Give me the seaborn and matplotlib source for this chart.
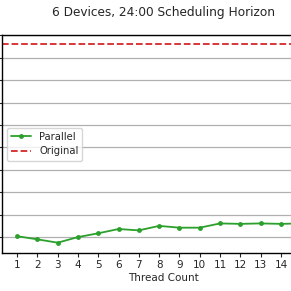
import numpy as np
import pandas as pd
import seaborn as sns
import matplotlib
matplotlib.use("Agg")
import matplotlib.pyplot as plt

# Values (y units arbitrary; labels are cropped away)
threads = [1, 2, 3, 4, 5, 6, 7, 8, 9, 10, 11, 12, 13, 14, 15]
parallel_time = [104, 90, 75, 100, 117, 136, 130, 150, 142, 142, 161, 159, 161, 159, 161]
original_time = 963
y_ticks = [100, 200, 300, 400, 500, 600, 700, 800, 900, 1000]

sns.set_style("ticks")
plt.rcParams['font.family'] = ['DejaVu Sans']

W = H = 291
fig = plt.figure(figsize=(W / 100, H / 100), dpi=100)
# axes deliberately wider than the figure: the reference is a crop
ax = fig.add_axes([2 / W, 1 - 253 / H, 322 / W, (253 - 35) / H])

df = pd.DataFrame({"Thread Count": threads, "Time": parallel_time})
sns.lineplot(data=df, x="Thread Count", y="Time", ax=ax, color="#2ca02c",
             marker="o", markersize=3.5, markeredgewidth=0, linewidth=1.3,
             label="Parallel")
ax.axhline(original_time, color="#d62728", linestyle="--", linewidth=1.3,
           label="Original")

ax.set_xlim(0.26, 16.12)
ax.set_ylim(29, 1002)
ax.set_xticks(list(range(1, 15)))
# y tick labels fall outside the cropped reference, so only marks remain
ax.set_yticks(y_ticks)
ax.set_yticklabels([])
ax.yaxis.grid(True, color="#b0b0b0", linewidth=0.9)
ax.set_axisbelow(True)
ax.tick_params(axis="x", labelsize=7.5, length=3, pad=2)
ax.tick_params(axis="y", length=3)
for s in ax.spines.values():
    s.set_color("black")
    s.set_linewidth(1.0)

ax.set_xlabel("Thread Count", fontsize=7.5, labelpad=2)
ax.set_ylabel("")
ax.set_title("6 Devices, 24:00 Scheduling Horizon", fontsize=8.7, pad=14)
ax.legend(loc="center left", fontsize=7.2, frameon=True, borderaxespad=0.5,
          handlelength=2.0)

fig.savefig("out.png", dpi=100)
